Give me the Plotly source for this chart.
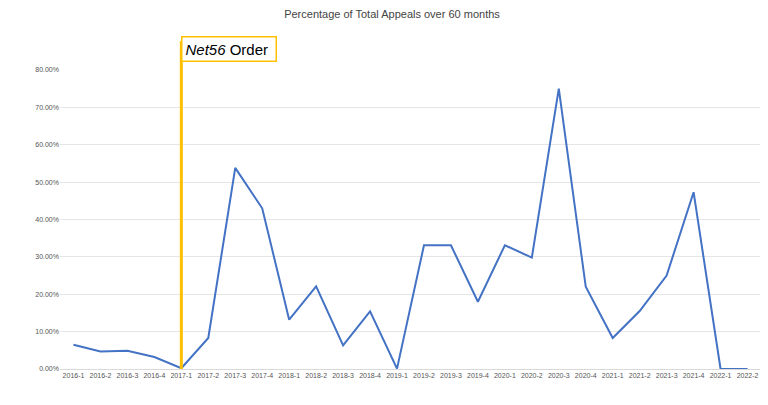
import plotly.graph_objects as go

quarters = ["2016-1","2016-2","2016-3","2016-4","2017-1","2017-2","2017-3","2017-4",
            "2018-1","2018-2","2018-3","2018-4","2019-1","2019-2","2019-3","2019-4",
            "2020-1","2020-2","2020-3","2020-4","2021-1","2021-2","2021-3","2021-4",
            "2022-1","2022-2"]
pct = [0.065,0.047,0.049,0.032,0.002,0.083,0.538,0.430,0.132,0.221,0.063,0.154,0.001,
       0.331,0.331,0.180,0.331,0.298,0.750,0.220,0.083,0.155,0.250,0.473,0.0,0.0]
order_quarter = "2017-1"
yticks = [i/10 for i in range(9)]

fig = go.Figure(go.Scatter(x=quarters, y=pct, mode="lines",
                           line=dict(color="#4472C4", width=2)))
fig.add_shape(type="line", x0=order_quarter, x1=order_quarter, y0=0, y1=1.097,
              xref="x", yref="paper", line=dict(color="#FFC000", width=3))
fig.add_annotation(x=order_quarter, y=1.113, xref="x", yref="paper", xanchor="left",
                   text="<i>Net56</i> Order ", showarrow=False,
                   font=dict(family="Liberation Sans", size=15, color="#000"),
                   bordercolor="#FFC000", borderwidth=1.5, borderpad=3, bgcolor="white")
fig.update_layout(
    width=768, height=405, paper_bgcolor="white", plot_bgcolor="white",
    margin=dict(l=52, r=15, t=62, b=44), showlegend=False,
    title=dict(text="Percentage of Total Appeals over 60 months", x=0.5, y=0.995,
               yanchor="top", font=dict(family="Liberation Sans", size=11, color="#444")),
    font=dict(family="Liberation Sans", size=7, color="#555"),
)
fig.update_xaxes(type="category", range=[-0.5, 25.5], tickangle=0, showgrid=False,
                 showline=True, linecolor="#d9d9d9", ticks="", tickfont=dict(size=7))
fig.update_yaxes(range=[0, 0.8], tickvals=yticks, tickformat=".2%", gridcolor="#e6e6e6",
                 zeroline=False, showline=False, tickfont=dict(size=7))
fig.write_html("out.html")
